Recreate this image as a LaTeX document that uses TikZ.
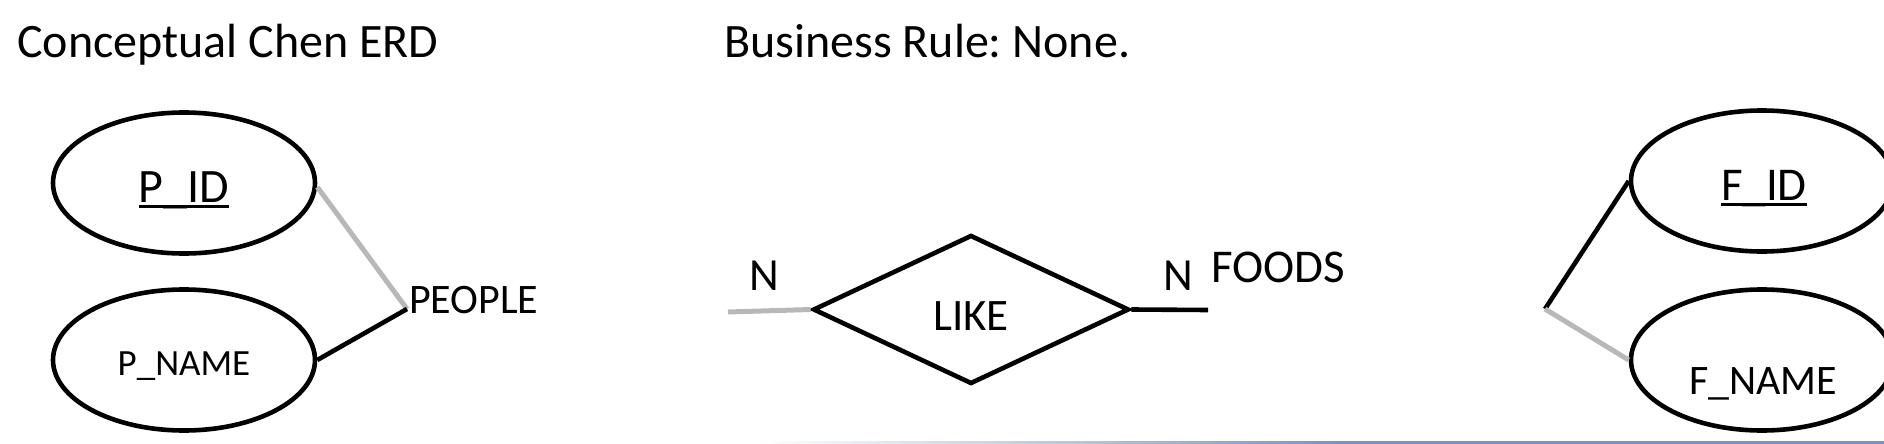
\documentclass[tikz,border=0pt]{standalone}
\usepackage{fontspec}
\setmainfont{Carlito}
\usetikzlibrary{shapes.geometric}
\frenchspacing
\newcommand\myul[1]{\setbox0\hbox{#1}\rlap{\rule[-6pt]{\wd0}{2.8pt}}\box0}
\newcommand\fs[1]{\fontsize{#1}{#1}\selectfont}
\definecolor{barblue}{RGB}{112,150,200}
\begin{document}
\begin{tikzpicture}[x=1pt,y=-1pt,
  attr/.style={ellipse,draw,line width=4.6pt,minimum width=262pt,minimum height=141pt,inner sep=0pt},
  rel/.style={diamond,draw,line width=4.6pt,minimum width=316pt,minimum height=149pt,inner sep=0pt},
  lbl/.style={inner sep=0pt,anchor=base},
  solidlink/.style={line width=4.6pt,black},
  softlink/.style={line width=5pt,black!28}]
\useasboundingbox (0,0) rectangle (1884,444);
\clip (0,0) rectangle (1884,444);
% titles
\node[lbl,anchor=base west] (t1) at (17,58) {\fs{48}Conceptual Chen ERD};
\node[lbl,anchor=base west] (t2) at (724,58) {\fs{48}Business Rule: None.};
% PEOPLE side
\node[attr] (pid) at (184,183) {};
\node[attr] (pname) at (184,360) {};
\node[lbl] (pidt) at (184,202) {\fs{48}\myul{P\_ID}};
\node[lbl] (pnamet) at (184,375) {\fs{37}P\_NAME};
\node[lbl,anchor=base west] (people) at (409,313) {\fs{42}PEOPLE};
\coordinate (pj) at (407,309);
\draw[softlink] (pid.east) ++(0,4) -- (pj);
\draw[solidlink] (pname.east) -- (pj);
% relationship
\node[rel] (like) at (971,309.5) {};
\node[lbl] (liket) at (971,330) {\fs{45}LIKE};
\coordinate (lend) at (728,312);
\coordinate (rend) at (1208,310);
\draw[softlink] (lend) -- (like.west);
\draw[solidlink] (like.east) -- (rend);
\node[lbl] (n1) at (764,290) {\fs{46}N};
\node[lbl] (n2) at (1178,290) {\fs{46}N};
\node[lbl,anchor=base west] (foods) at (1211,282) {\fs{47}FOODS};
% FOODS side
\node[attr] (fid) at (1762,181) {};
\node[attr] (fname) at (1762,360) {};
\node[lbl] (fidt) at (1764,200) {\fs{47}\myul{F\_ID}};
\node[lbl] (fnamet) at (1763,394) {\fs{42}F\_NAME};
\coordinate (fj) at (1545,309);
\draw[solidlink] (fj) -- (fid.west);
\draw[softlink] (fj) -- (fname.west);
% bottom bar
\shade[left color=white,right color=barblue] (760,441) rectangle (1340,444);
\fill[barblue] (1340,441) rectangle (1884,444);
\end{tikzpicture}
\end{document}
